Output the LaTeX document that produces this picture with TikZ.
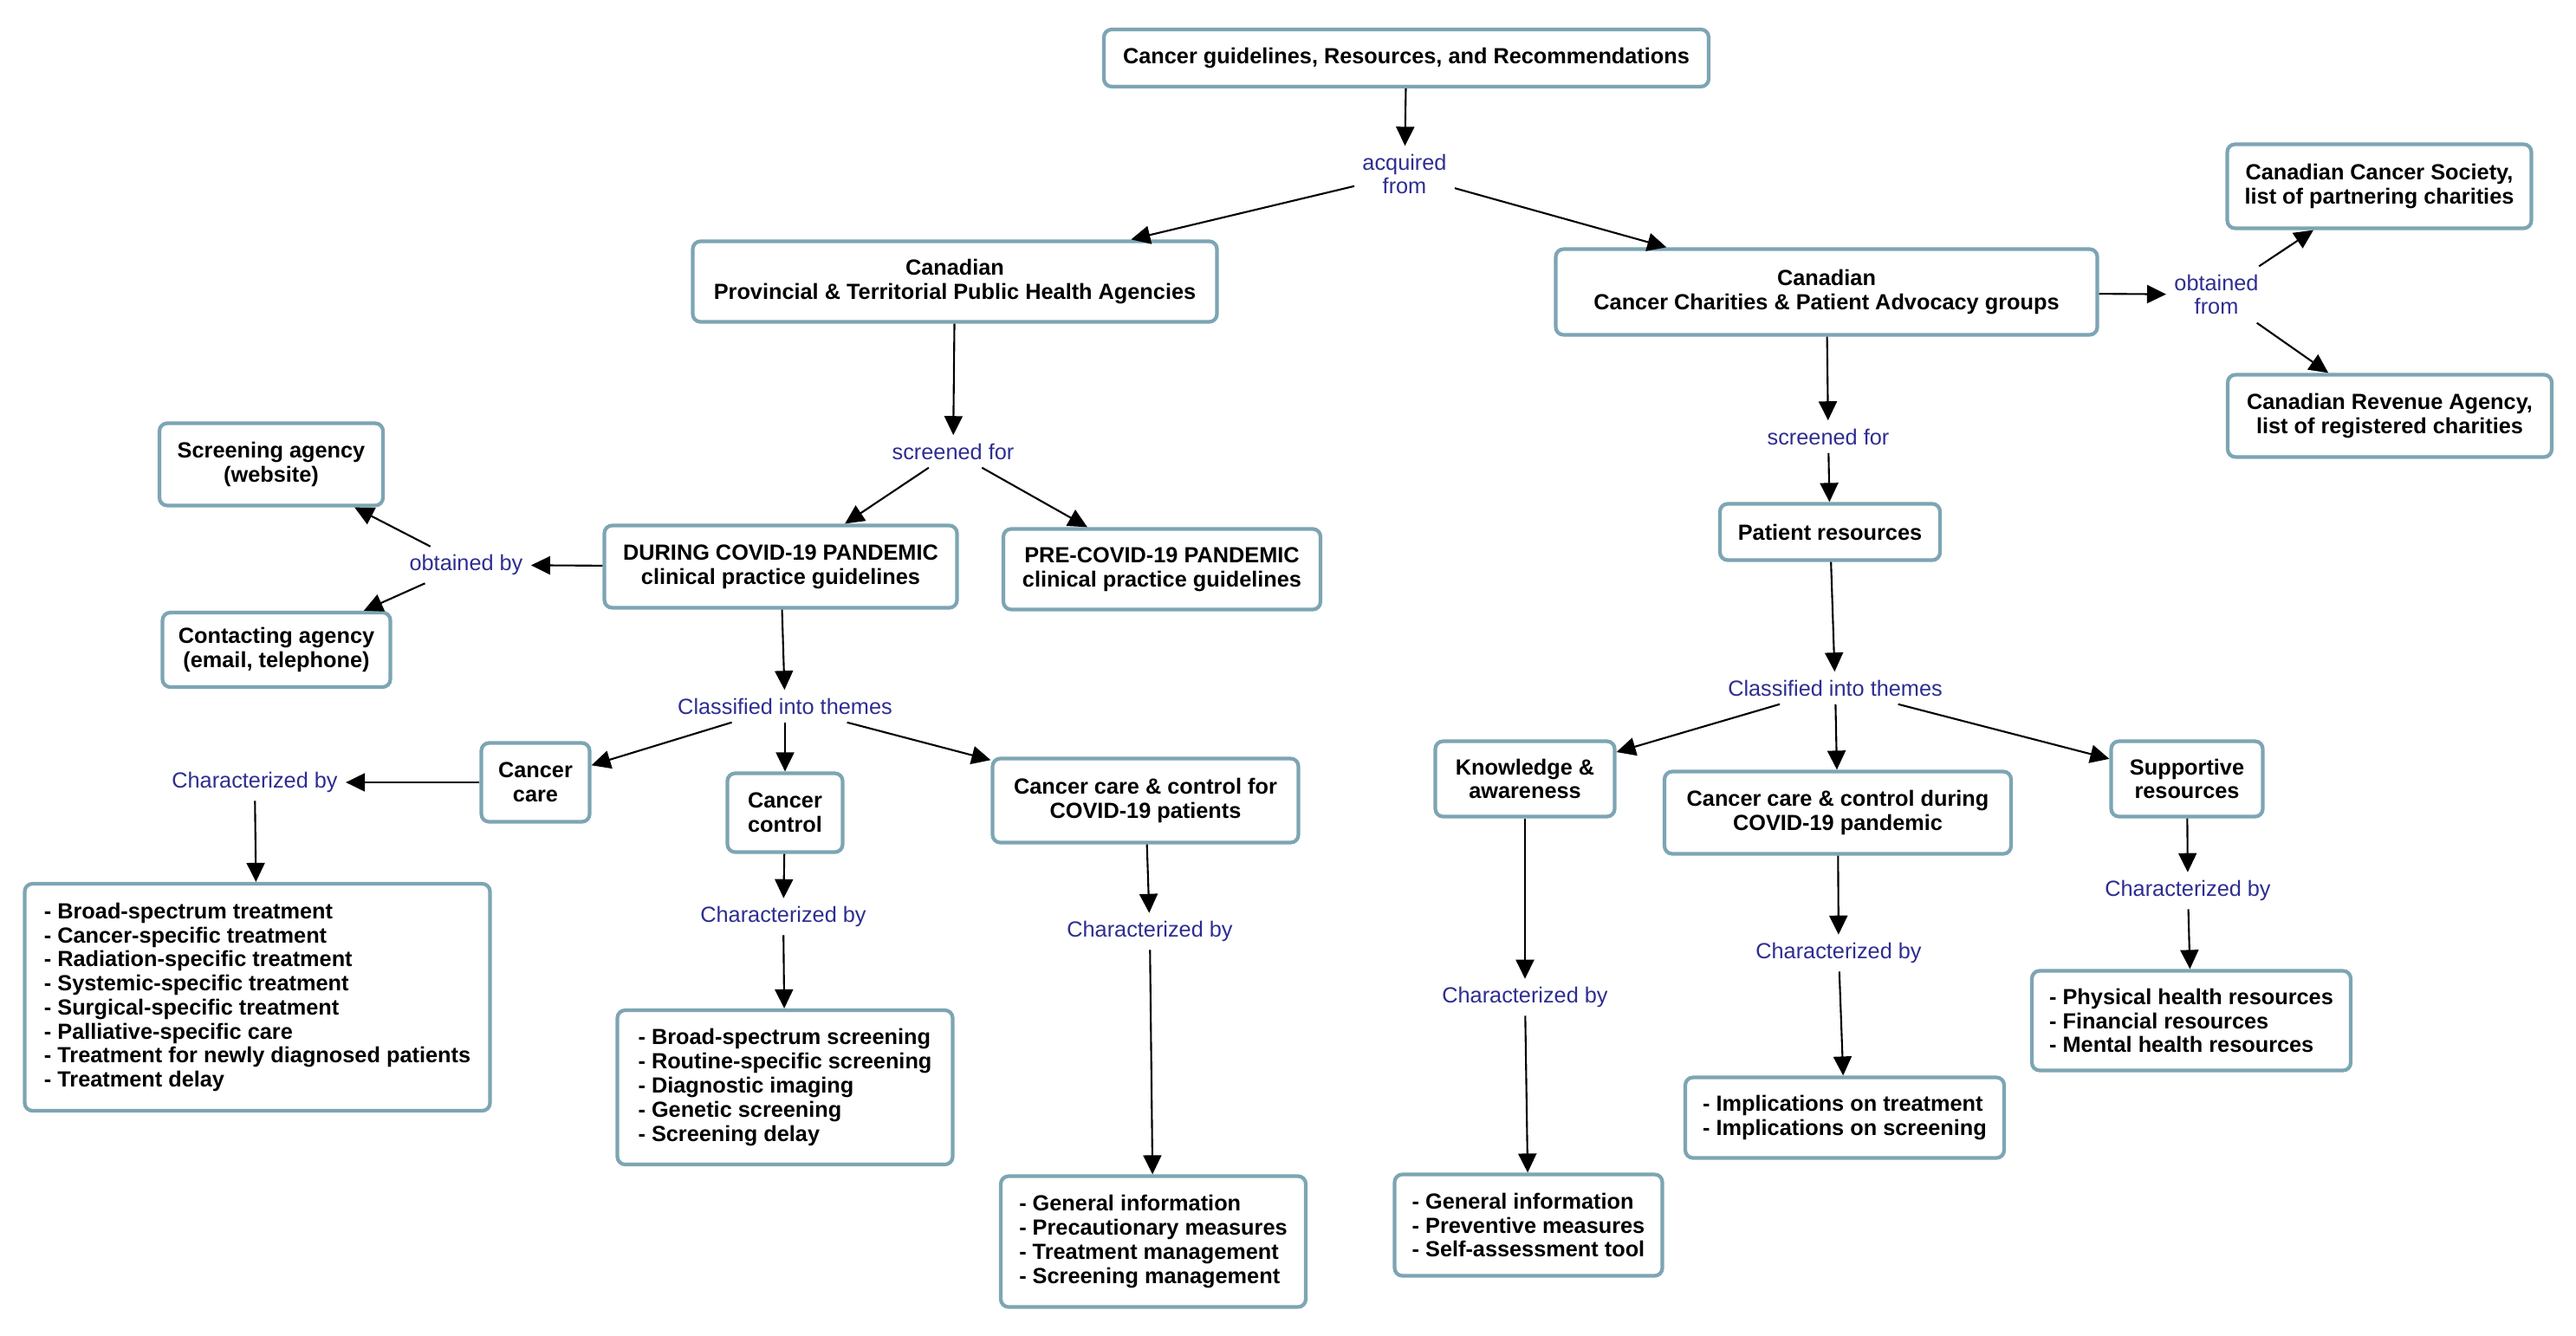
\documentclass[tikz,border=0pt]{standalone}
\usepackage{fontspec}
\setmainfont{Liberation Sans}
\usepackage{tikz}
\usetikzlibrary{arrows.meta}
\definecolor{boxline}{RGB}{125,165,180}
\definecolor{lblblue}{RGB}{45,45,145}
\begin{document}
\begin{tikzpicture}[>={Triangle[length=2.2mm,width=2.1mm]},
  box/.style={draw=boxline,line width=1.2pt,rounded corners=0.9mm,fill=white,
    align=center,inner sep=1pt,font=\fontsize{7.2}{7.9}\selectfont\bfseries},
  lst/.style={box,align=left},
  lbl/.style={text=lblblue,align=center,inner sep=2.5pt,
    font=\fontsize{7.2}{7.9}\selectfont}]
  \useasboundingbox (0,0) rectangle (29.73,-15.42);
  % top and sources
  \node[box,minimum width=6.98cm,minimum height=0.66cm] (top) at (16.23,-0.67)
    {Cancer guidelines, Resources, and Recommendations};
  \node[lbl] (acq) at (16.21,-2.01) {acquired\\from};
  \node[box,minimum width=6.05cm,minimum height=0.93cm] (ph) at (11.02,-3.25)
    {Canadian\\Provincial \& Territorial Public Health Agencies};
  \node[box,minimum width=6.25cm,minimum height=0.99cm] (cc) at (21.08,-3.37)
    {Canadian\\Cancer Charities \& Patient Advocacy groups};
  \node[lbl] (obtfrom) at (25.58,-3.40) {obtained\\from};
  \node[box,minimum width=3.51cm,minimum height=0.97cm] (ccs) at (27.46,-2.15)
    {Canadian Cancer Society,\\list of partnering charities};
  \node[box,minimum width=3.74cm,minimum height=0.95cm] (cra) at (27.58,-4.80)
    {Canadian Revenue Agency,\\list of registered charities};
  % left branch: guidelines
  \node[lbl] (scrL) at (11.00,-5.21) {screened for};
  \node[box,minimum width=4.07cm,minimum height=0.95cm] (during) at (9.01,-6.54)
    {DURING COVID-19 PANDEMIC\\clinical practice guidelines};
  \node[box,minimum width=3.66cm,minimum height=0.93cm] (pre) at (13.41,-6.57)
    {PRE-COVID-19 PANDEMIC\\clinical practice guidelines};
  \node[lbl] (obtby) at (5.38,-6.52) {obtained by};
  \node[box,minimum width=2.58cm,minimum height=0.95cm] (web) at (3.13,-5.36)
    {Screening agency\\(website)};
  \node[box,minimum width=2.63cm,minimum height=0.86cm] (contact) at (3.19,-7.50)
    {Contacting agency\\(email, telephone)};
  \node[lbl] (clsL) at (9.06,-8.15) {Classified into themes};
  \node[box,minimum width=1.25cm,minimum height=0.91cm] (care) at (6.18,-9.03)
    {Cancer\\care};
  \node[box,minimum width=1.33cm,minimum height=0.91cm] (control) at (9.06,-9.38)
    {Cancer\\control};
  \node[box,minimum width=3.53cm,minimum height=0.97cm] (covpat) at (13.22,-9.24)
    {Cancer care \& control for\\COVID-19 patients};
  \node[lbl] (chCare) at (2.94,-9.03) {Characterized by};
  \node[lst,minimum width=5.37cm,minimum height=2.62cm] (lstCare) at (2.97,-11.51)
    {- Broad-spectrum treatment\\- Cancer-specific treatment\\- Radiation-specific treatment\\
     - Systemic-specific treatment\\- Surgical-specific treatment\\- Palliative-specific care\\
     - Treatment for newly diagnosed patients\\- Treatment delay};
  \node[lbl] (chControl) at (9.04,-10.58) {Characterized by};
  \node[lst,minimum width=3.87cm,minimum height=1.78cm] (lstControl) at (9.06,-12.55)
    {- Broad-spectrum screening\\- Routine-specific screening\\- Diagnostic imaging\\
     - Genetic screening\\- Screening delay};
  \node[lbl] (chCovpat) at (13.27,-10.75) {Characterized by};
  \node[lst,minimum width=3.52cm,minimum height=1.51cm] (lstCovpat) at (13.31,-14.33)
    {- General information\\- Precautionary measures\\- Treatment management\\
     - Screening management};
  % right branch: patient resources
  \node[lbl] (scrR) at (21.10,-5.04) {screened for};
  \node[box,minimum width=2.54cm,minimum height=0.65cm] (pat) at (21.12,-6.14)
    {Patient resources};
  \node[lbl] (clsR) at (21.18,-7.94) {Classified into themes};
  \node[box,minimum width=2.07cm,minimum height=0.87cm] (know) at (17.60,-8.99)
    {Knowledge \&\\awareness};
  \node[box,minimum width=4.00cm,minimum height=0.95cm] (ccdur) at (21.21,-9.38)
    {Cancer care \& control during\\COVID-19 pandemic};
  \node[box,minimum width=1.75cm,minimum height=0.87cm] (supp) at (25.24,-8.99)
    {Supportive\\resources};
  \node[lbl] (chKnow) at (17.60,-11.51) {Characterized by};
  \node[lst,minimum width=3.09cm,minimum height=1.17cm] (lstKnow) at (17.64,-14.14)
    {- General information\\- Preventive measures\\- Self-assessment tool};
  \node[lbl] (chCcdur) at (21.22,-11.00) {Characterized by};
  \node[lst,minimum width=3.68cm,minimum height=0.93cm] (lstCcdur) at (21.29,-12.90)
    {- Implications on treatment\\- Implications on screening};
  \node[lbl] (chSupp) at (25.25,-10.28) {Characterized by};
  \node[lst,minimum width=3.68cm,minimum height=1.15cm] (lstSupp) at (25.29,-11.78)
    {- Physical health resources\\- Financial resources\\- Mental health resources};
  % connectors
  \foreach \a/\b in {top/acq,acq/ph,acq/cc,ph/scrL,scrL/during,scrL/pre,
      during/obtby,obtby/web,obtby/contact,during/clsL,clsL/care,clsL/control,
      clsL/covpat,care/chCare,chCare/lstCare,control/chControl,chControl/lstControl,
      covpat/chCovpat,chCovpat/lstCovpat,cc/obtfrom,obtfrom/ccs,obtfrom/cra,
      cc/scrR,scrR/pat,pat/clsR,clsR/know,clsR/ccdur,clsR/supp,know/chKnow,
      chKnow/lstKnow,ccdur/chCcdur,chCcdur/lstCcdur,supp/chSupp,chSupp/lstSupp}
    \draw[->,line width=0.6pt] (\a) -- (\b);
\end{tikzpicture}
\end{document}
